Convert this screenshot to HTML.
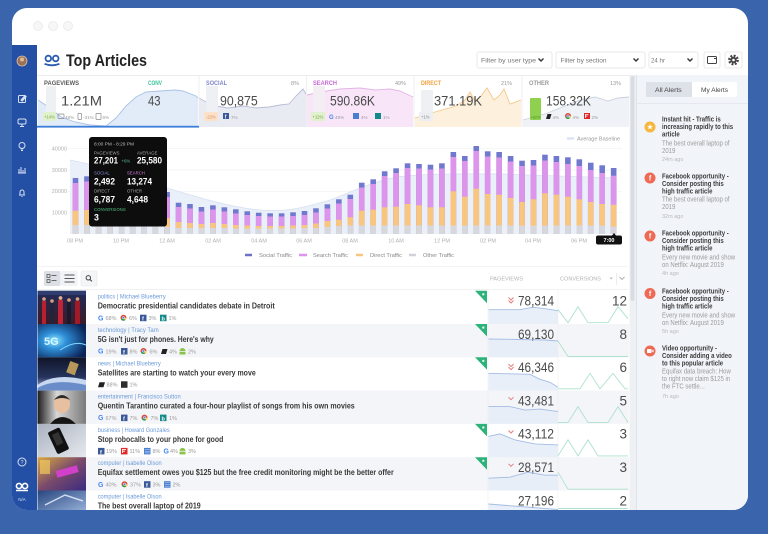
<!DOCTYPE html>
<html><head><meta charset="utf-8">
<style>
html,body{margin:0;padding:0;width:768px;height:534px;overflow:hidden;background:#3a64ac;}
svg{display:block;font-family:"Liberation Sans",sans-serif;}
</style></head><body>
<svg width="768" height="534" viewBox="0 0 768 534" xmlns="http://www.w3.org/2000/svg">
<defs>
<clipPath id="win"><rect x="12" y="8" width="736" height="502" rx="15"/></clipPath>
<linearGradient id="t0" x1="0" y1="0" x2="0" y2="1"><stop offset="0" stop-color="#1f2c5a"/><stop offset="1" stop-color="#3c1a28"/></linearGradient>
<radialGradient id="t1" cx="0.35" cy="0.5" r="0.7"><stop offset="0" stop-color="#8fe6ff"/><stop offset="0.35" stop-color="#2f8fd8"/><stop offset="1" stop-color="#0b2458"/></radialGradient>
<linearGradient id="t2" x1="0" y1="0" x2="0" y2="1"><stop offset="0" stop-color="#0f1428"/><stop offset="0.6" stop-color="#26345e"/><stop offset="1" stop-color="#a9c1e8"/></linearGradient>
<linearGradient id="t3" x1="0" y1="0" x2="1" y2="0"><stop offset="0" stop-color="#1c1c1c"/><stop offset="0.4" stop-color="#d8d8d8"/><stop offset="1" stop-color="#7a7a7a"/></linearGradient>
<linearGradient id="t4" x1="0" y1="0" x2="1" y2="1"><stop offset="0" stop-color="#aab2c0"/><stop offset="1" stop-color="#e6e9ee"/></linearGradient>
<linearGradient id="t5" x1="0" y1="0" x2="1" y2="1"><stop offset="0" stop-color="#d9a843"/><stop offset="0.5" stop-color="#7a4a6a"/><stop offset="1" stop-color="#3a2a80"/></linearGradient>
<linearGradient id="t6" x1="0" y1="0" x2="1" y2="1"><stop offset="0" stop-color="#27467f"/><stop offset="1" stop-color="#9bb4dc"/></linearGradient>
</defs>

<rect width="768" height="534" fill="#3a64ac"/>

<g clip-path="url(#win)">
<rect x="12" y="8" width="736" height="502" fill="#ffffff"/>
<!-- traffic lights -->
<circle cx="38" cy="26" r="4.5" fill="#f7f7f7" stroke="#ececec"/>
<circle cx="53" cy="26" r="4.5" fill="#f7f7f7" stroke="#ececec"/>
<circle cx="68" cy="26" r="4.5" fill="#f7f7f7" stroke="#ececec"/>

<!-- sidebar -->
<rect x="12" y="45" width="25" height="470" fill="#234fa4"/>
<circle cx="22" cy="61" r="5" fill="#9a7058" stroke="#d8c0a8" stroke-width="0.8"/>
<circle cx="22" cy="59.5" r="2" fill="#e0b898"/>
<g fill="none" stroke="#d5e0f5" stroke-width="1">
<rect x="18.5" y="95.5" width="7" height="7" rx="1"/>
<path d="M21,100 l4,-4.5 l1.2,1.2 l-4,4.5z" fill="#d5e0f5"/>
<rect x="18" y="119" width="8" height="5" rx="1.5"/>
<path d="M22,124 v2 M20,126.5 h4"/>
<circle cx="22" cy="145.5" r="3"/>
<path d="M20.8,149 h2.4 M21,150.5 h2"/>
<path d="M18,173 h8 M19,173 v-4 M21,173 v-6 M23,173 v-3 M25,173 v-5"/>
<path d="M19,195 h6 M20,195 v-3 a2,2 0 0 1 4,0 v3 M21.5,196.5 h1"/>
<circle cx="22" cy="462" r="4"/>
</g>
<text x="22" y="464.2" font-size="5.5" fill="#d5e0f5" text-anchor="middle">?</text>
<circle cx="19" cy="486" r="2.6" fill="none" stroke="#fff" stroke-width="1.6"/>
<circle cx="25" cy="486" r="2.6" fill="none" stroke="#fff" stroke-width="1.6"/>
<path d="M16,490.5 h12" stroke="#fff" stroke-width="1.5"/>
<text x="22" y="501" font-size="4.5" fill="#d5e0f5" text-anchor="middle">N/A</text>

<!-- header -->
<circle cx="48.3" cy="58.5" r="2.8" fill="none" stroke="#2a5db0" stroke-width="1.8"/>
<circle cx="55.7" cy="58.5" r="2.8" fill="none" stroke="#2a5db0" stroke-width="1.8"/>
<path d="M44.5,63.8 q7.5,3 15,0" fill="none" stroke="#2a5db0" stroke-width="1.8"/>
<text x="66" y="66" font-size="16.5" font-weight="bold" fill="#222" textLength="81" lengthAdjust="spacingAndGlyphs">Top Articles</text>

<!-- filters -->
<rect x="477" y="52" width="75" height="16" rx="2" fill="#fff" stroke="#e3e3e3" stroke-width="0.8"/>
<text x="481" y="62.3" font-size="6.3" fill="#777" textLength="55" lengthAdjust="spacingAndGlyphs">Filter by user type</text>
<path d="M538.5,58.5 l2.5,2.5 l2.5,-2.5" fill="none" stroke="#333" stroke-width="1.4"/>
<rect x="556" y="52" width="89" height="16" rx="2" fill="#fff" stroke="#e3e3e3" stroke-width="0.8"/>
<text x="560.5" y="62.3" font-size="6.3" fill="#777" textLength="46" lengthAdjust="spacingAndGlyphs">Filter by section</text>
<path d="M633.5,58.5 l2.5,2.5 l2.5,-2.5" fill="none" stroke="#333" stroke-width="1.4"/>
<rect x="649" y="52" width="49" height="16" rx="2" fill="#fff" stroke="#e3e3e3" stroke-width="0.8"/>
<text x="651" y="62.3" font-size="6.3" fill="#777" textLength="14" lengthAdjust="spacingAndGlyphs">24 hr</text>
<path d="M687.5,58.5 l2.5,2.5 l2.5,-2.5" fill="none" stroke="#333" stroke-width="1.4"/>
<rect x="704" y="52" width="16" height="16" rx="2" fill="#fff" stroke="#e3e3e3" stroke-width="0.8"/>
<rect x="707.5" y="56.5" width="9" height="7" rx="1" fill="none" stroke="#444" stroke-width="1"/>
<path d="M714,58.5 h3" stroke="#444" stroke-width="1"/>
<rect x="725" y="52" width="17" height="16" rx="2" fill="#fff" stroke="#e3e3e3" stroke-width="0.8"/>
<circle cx="733.5" cy="60" r="4.2" fill="none" stroke="#444" stroke-width="2.4" stroke-dasharray="1.9 1.4"/>
<circle cx="733.5" cy="60" r="3.2" fill="#444"/>
<circle cx="733.5" cy="60" r="1.3" fill="#fff"/>

<!-- alerts panel -->
<rect x="636" y="75" width="115" height="440" fill="#f1f4f9"/>
<line x1="636.5" y1="75" x2="636.5" y2="510" stroke="#dfe3ea" stroke-width="1"/>
<line x1="636" y1="103.5" x2="748" y2="103.5" stroke="#e1e5ec" stroke-width="0.8"/>
<rect x="646" y="82" width="46" height="15" rx="1.5" fill="#dde1e8"/>
<rect x="692" y="82" width="45" height="15" rx="1.5" fill="#ffffff"/>
<text x="655" y="91.8" font-size="6.2" fill="#444" textLength="26.7" lengthAdjust="spacingAndGlyphs">All Alerts</text>
<text x="701" y="91.8" font-size="6.2" fill="#444" textLength="27" lengthAdjust="spacingAndGlyphs">My Alerts</text>

<!-- scrollbar -->
<rect x="629.5" y="75" width="6.5" height="440" fill="#eef0f3"/>
<rect x="630.5" y="76" width="4" height="225" rx="2" fill="#d9dce2"/>

<!-- metrics row -->
<line x1="37" y1="75.5" x2="630" y2="75.5" stroke="#e6e6e6" stroke-width="0.8"/>
<path d="M38,100 L50,108 L61,117 L75,122 L90,125 L106,126 L116,118 L126,106 L136,97 L146,92 L160,91 L175,90 L183,91 L196,96 L198,98 L198,127 L38,127Z" fill="#e2ebf8"/>
<path d="M38,100 L50,108 L61,117 L75,122 L90,125 L106,126 L116,118 L126,106 L136,97 L146,92 L160,91 L175,90 L183,91 L196,96 L198,98" fill="none" stroke="#a9c2e6" stroke-width="0.9"/>
<path d="M199,98 L210,104 L216,106 L228,108 L243,106 L256,108 L269,107 L280,105 L289,104 L296,96 L303,89 L306,94 L306,127 L199,127Z" fill="#e9ebf2"/>
<path d="M199,98 L210,104 L216,106 L228,108 L243,106 L256,108 L269,107 L280,105 L289,104 L296,96 L303,89 L306,94" fill="none" stroke="#b7bdd8" stroke-width="0.9"/>
<path d="M307,95 L320,92 L340,89 L360,88 L375,90 L390,89 L400,91 L413,97 L413,127 L307,127Z" fill="#f8e6f8"/>
<path d="M307,95 L320,92 L340,89 L360,88 L375,90 L390,89 L400,91 L413,97" fill="none" stroke="#e3b3e6" stroke-width="0.9"/>
<path d="M415,118 L428,114 L442,110 L456,106 L465,100 L470,92 L475,101 L481,96 L487,88 L494,100 L500,95 L504,89 L510,104 L521,100 L521,127 L415,127Z" fill="#fdf0dc"/>
<path d="M415,118 L428,114 L442,110 L456,106 L465,100 L470,92 L475,101 L481,96 L487,88 L494,100 L500,95 L504,89 L510,104 L521,100" fill="none" stroke="#f3c98a" stroke-width="0.9"/>
<path d="M523,120 L545,114 L565,106 L580,100 L595,97 L608,101 L618,98 L629,97 L629,127 L523,127Z" fill="#eff2f7"/>
<path d="M523,120 L545,114 L565,106 L580,100 L595,97 L608,101 L618,98 L629,97" fill="none" stroke="#c9d1de" stroke-width="0.9"/>
<g stroke="#ebebeb" stroke-width="0.8"><line x1="199" y1="76" x2="199" y2="127"/><line x1="306.5" y1="76" x2="306.5" y2="127"/><line x1="414" y1="76" x2="414" y2="127"/><line x1="522" y1="76" x2="522" y2="127"/></g>
<rect x="37" y="125.8" width="162" height="1.8" fill="#3d7ed8"/>

<!-- metric mini bars -->
<rect x="46" y="86" width="10" height="26" fill="#eef0f4"/>
<rect x="43" y="112" width="13" height="9" fill="#e1f0cd"/>
<text x="44" y="118.6" font-size="4.2" fill="#72aa3e">+14%</text>
<rect x="206" y="86" width="12" height="26" fill="#eef0f4"/>
<rect x="204" y="112" width="14" height="9" fill="#fbe1cc"/>
<text x="206" y="118.6" font-size="4.2" fill="#df8a50">-22%</text>
<rect x="313" y="86" width="12" height="26" fill="#f3edf4"/>
<rect x="311" y="112" width="14" height="9" fill="#e1f0cd"/>
<text x="312.5" y="118.6" font-size="4.2" fill="#72aa3e">+12%</text>
<rect x="421" y="90" width="12" height="22" fill="#eef0f4"/>
<rect x="419" y="112" width="14" height="9" fill="#eceef1"/>
<text x="421" y="118.6" font-size="4.2" fill="#888">+1%</text>
<rect x="530" y="98" width="11" height="22" rx="1" fill="#8fd14f"/>
<text x="530.5" y="118.6" font-size="3.8" fill="#4a8a20">+62%</text>

<!-- metric labels -->
<text x="44" y="85" font-size="6" font-weight="bold" fill="#5a5a5a" textLength="35" lengthAdjust="spacingAndGlyphs">PAGEVIEWS</text>
<text x="148" y="85" font-size="6" font-weight="bold" fill="#3cc39a" textLength="14" lengthAdjust="spacingAndGlyphs">CONV</text>
<text x="206" y="85" font-size="6" font-weight="bold" fill="#7c86c9" textLength="21" lengthAdjust="spacingAndGlyphs">SOCIAL</text>
<text x="299" y="85" font-size="5.5" fill="#999" text-anchor="end">8%</text>
<text x="313" y="85" font-size="6" font-weight="bold" fill="#c869d6" textLength="24" lengthAdjust="spacingAndGlyphs">SEARCH</text>
<text x="406" y="85" font-size="5.5" fill="#999" text-anchor="end">49%</text>
<text x="421" y="85" font-size="6" font-weight="bold" fill="#f2a03d" textLength="20" lengthAdjust="spacingAndGlyphs">DIRECT</text>
<text x="512" y="85" font-size="5.5" fill="#999" text-anchor="end">21%</text>
<text x="529" y="85" font-size="6" font-weight="bold" fill="#9a9a9a" textLength="20" lengthAdjust="spacingAndGlyphs">OTHER</text>
<text x="621" y="85" font-size="5.5" fill="#999" text-anchor="end">13%</text>

<!-- metric values -->
<g font-size="14" fill="#4a4a4a">
<text x="61" y="105.5" textLength="41" lengthAdjust="spacingAndGlyphs">1.21M</text>
<text x="148" y="105.5" textLength="12.5" lengthAdjust="spacingAndGlyphs">43</text>
<text x="220" y="105.5" textLength="37.7" lengthAdjust="spacingAndGlyphs">90,875</text>
<text x="330" y="105.5" textLength="45" lengthAdjust="spacingAndGlyphs">590.86K</text>
<text x="434" y="105.5" textLength="48" lengthAdjust="spacingAndGlyphs">371.19K</text>
<text x="546" y="105.5" textLength="45" lengthAdjust="spacingAndGlyphs">158.32K</text>
</g>
<!-- metric small stats -->
<g font-size="4.6" fill="#9a9a9a">
<rect x="58" y="114" width="6" height="4.5" rx="0.8" fill="none" stroke="#888" stroke-width="0.7"/>
<text x="65" y="118.8">48%</text>
<rect x="78" y="113.5" width="3.5" height="6" rx="0.6" fill="none" stroke="#888" stroke-width="0.7"/>
<text x="83" y="118.8">-31%</text>
<rect x="96" y="113.5" width="5" height="6" rx="0.6" fill="none" stroke="#888" stroke-width="0.7"/>
<text x="102.5" y="118.8">6%</text>
<rect x="223" y="113" width="6" height="6" fill="#3b5998"/><text x="224.8" y="118.4" font-size="5" font-weight="bold" fill="#fff">f</text>
<text x="231" y="118.8">7%</text>
<text x="329" y="119" font-size="6" font-weight="bold" fill="#4285f4">G</text>
<text x="335" y="118.8">49%</text>
<rect x="353" y="113" width="6" height="6" fill="#4a7fd0"/>
<text x="361" y="118.8">4%</text>
<rect x="375" y="113" width="6" height="6" fill="#138a8a"/>
<text x="383" y="118.8">1%</text>
<path d="M546,119 l1.5,-5 h4 l-1.5,5z" fill="#222"/>
<text x="552.5" y="118.8">4%</text>
<circle cx="568" cy="116" r="3" fill="#dd4b39"/><path d="M568,116 L565.4,117.5 A3,3 0 0 0 569.5,118.6Z" fill="#1da462"/><path d="M568,116 L569.5,118.6 A3,3 0 0 0 571,116Z" fill="#ffcd46"/><circle cx="568" cy="116" r="1.2" fill="#4285f4" stroke="#fff" stroke-width="0.5"/>
<text x="572.5" y="118.8">4%</text>
<rect x="584" y="113" width="6" height="6" fill="#e12828"/><path d="M585.5,118 v-3.5 h3 M585.5,116 h2" stroke="#fff" stroke-width="0.8" fill="none"/>
<text x="591.5" y="118.8">2%</text>
</g>

<!-- chart -->
<g stroke="#eff1f4" stroke-width="0.7">
<line x1="68" y1="148.7" x2="622" y2="148.7"/><line x1="68" y1="170" x2="622" y2="170"/><line x1="68" y1="191.3" x2="622" y2="191.3"/><line x1="68" y1="212.7" x2="622" y2="212.7"/>
</g>
<g font-size="5.5" fill="#b0b0b0" text-anchor="end">
<text x="67" y="150.6">40000</text><text x="67" y="171.9">30000</text><text x="67" y="193.2">20000</text><text x="67" y="214.6">10000</text>
</g>
<path d="M70,160 C110,168 140,180 167,188 C200,198 230,207 259,210 C285,212 300,209 330,200 C350,193 370,182 397,177 C430,173 470,174 500,174 C540,175 580,177 617,178 L617,234 L70,234Z" fill="#eaf0f9"/>
<path d="M70,160 C110,168 140,180 167,188 C200,198 230,207 259,210 C285,212 300,209 330,200 C350,193 370,182 397,177 C430,173 470,174 500,174 C540,175 580,177 617,178" fill="none" stroke="#d5e0f1" stroke-width="0.8"/>

<g fill="#7179cf">
<rect x="72.7" y="178" width="5.6" height="56"/><rect x="84.15" y="176.3" width="5.6" height="57.7"/><rect x="95.6" y="177" width="5.6" height="57"/><rect x="107.05" y="179" width="5.6" height="55"/><rect x="118.5" y="181" width="5.6" height="53"/><rect x="129.95" y="183" width="5.6" height="51"/><rect x="141.4" y="186" width="5.6" height="48"/><rect x="152.85" y="189" width="5.6" height="45"/><rect x="164.3" y="192" width="5.6" height="42"/><rect x="175.75" y="202.7" width="5.6" height="31.3"/><rect x="187.2" y="204" width="5.6" height="30"/><rect x="198.65" y="207" width="5.6" height="27"/><rect x="210.1" y="205.3" width="5.6" height="28.7"/><rect x="221.55" y="207.3" width="5.6" height="26.7"/><rect x="233" y="209.3" width="5.6" height="24.7"/><rect x="244.45" y="211.3" width="5.6" height="22.7"/><rect x="255.9" y="212.7" width="5.6" height="21.3"/><rect x="267.35" y="213.3" width="5.6" height="20.7"/><rect x="278.8" y="213.3" width="5.6" height="20.7"/><rect x="290.25" y="212.3" width="5.6" height="21.7"/><rect x="301.7" y="211" width="5.6" height="23"/><rect x="313.15" y="208.3" width="5.6" height="25.7"/><rect x="324.6" y="204.3" width="5.6" height="29.7"/><rect x="336.05" y="199.3" width="5.6" height="34.7"/><rect x="347.5" y="194.7" width="5.6" height="39.3"/><rect x="358.95" y="182.7" width="5.6" height="51.3"/><rect x="370.4" y="179.3" width="5.6" height="54.7"/><rect x="381.85" y="171.3" width="5.6" height="62.7"/><rect x="393.3" y="168.3" width="5.6" height="65.7"/><rect x="404.75" y="163.3" width="5.6" height="70.7"/><rect x="416.2" y="164" width="5.6" height="70"/><rect x="427.65" y="164.7" width="5.6" height="69.3"/><rect x="439.1" y="163.3" width="5.6" height="70.7"/><rect x="450.55" y="152" width="5.6" height="82"/><rect x="462" y="156" width="5.6" height="78"/><rect x="473.45" y="146" width="5.6" height="88"/><rect x="484.9" y="151.3" width="5.6" height="82.7"/><rect x="496.35" y="152" width="5.6" height="82"/><rect x="507.8" y="156" width="5.6" height="78"/><rect x="519.25" y="160.7" width="5.6" height="73.3"/><rect x="530.7" y="160" width="5.6" height="74"/><rect x="542.15" y="154.7" width="5.6" height="79.3"/><rect x="553.6" y="156" width="5.6" height="78"/><rect x="565.05" y="157.3" width="5.6" height="76.7"/><rect x="576.5" y="159.3" width="5.6" height="74.7"/><rect x="587.95" y="162.7" width="5.6" height="71.3"/><rect x="599.4" y="165.3" width="5.6" height="68.7"/><rect x="610.85" y="168" width="5.6" height="66"/>
</g>
<g fill="#dc95ea">
<rect x="72.7" y="183" width="5.6" height="51"/><rect x="84.15" y="181.5" width="5.6" height="52.5"/><rect x="95.6" y="182" width="5.6" height="52"/><rect x="107.05" y="184" width="5.6" height="50"/><rect x="118.5" y="186" width="5.6" height="48"/><rect x="129.95" y="188" width="5.6" height="46"/><rect x="141.4" y="191" width="5.6" height="43"/><rect x="152.85" y="194" width="5.6" height="40"/><rect x="164.3" y="197" width="5.6" height="37"/><rect x="175.75" y="207" width="5.6" height="27"/><rect x="187.2" y="208.5" width="5.6" height="25.5"/><rect x="198.65" y="211.5" width="5.6" height="22.5"/><rect x="210.1" y="209.5" width="5.6" height="24.5"/><rect x="221.55" y="211.5" width="5.6" height="22.5"/><rect x="233" y="213.5" width="5.6" height="20.5"/><rect x="244.45" y="215" width="5.6" height="19"/><rect x="255.9" y="216" width="5.6" height="18"/><rect x="267.35" y="216.5" width="5.6" height="17.5"/><rect x="278.8" y="216.5" width="5.6" height="17.5"/><rect x="290.25" y="216" width="5.6" height="18"/><rect x="301.7" y="215" width="5.6" height="19"/><rect x="313.15" y="212.5" width="5.6" height="21.5"/><rect x="324.6" y="208.5" width="5.6" height="25.5"/><rect x="336.05" y="203.5" width="5.6" height="30.5"/><rect x="347.5" y="199" width="5.6" height="35"/><rect x="358.95" y="187.5" width="5.6" height="46.5"/><rect x="370.4" y="184" width="5.6" height="50"/><rect x="381.85" y="176" width="5.6" height="58"/><rect x="393.3" y="173" width="5.6" height="61"/><rect x="404.75" y="168" width="5.6" height="66"/><rect x="416.2" y="168.5" width="5.6" height="65.5"/><rect x="427.65" y="169.5" width="5.6" height="64.5"/><rect x="439.1" y="168.5" width="5.6" height="65.5"/><rect x="450.55" y="157" width="5.6" height="77"/><rect x="462" y="161" width="5.6" height="73"/><rect x="473.45" y="151" width="5.6" height="83"/><rect x="484.9" y="156.5" width="5.6" height="77.5"/><rect x="496.35" y="157.5" width="5.6" height="76.5"/><rect x="507.8" y="161.5" width="5.6" height="72.5"/><rect x="519.25" y="166" width="5.6" height="68"/><rect x="530.7" y="165.5" width="5.6" height="68.5"/><rect x="542.15" y="160.5" width="5.6" height="73.5"/><rect x="553.6" y="162" width="5.6" height="72"/><rect x="565.05" y="164" width="5.6" height="70"/><rect x="576.5" y="166" width="5.6" height="68"/><rect x="587.95" y="170" width="5.6" height="64"/><rect x="599.4" y="173" width="5.6" height="61"/><rect x="610.85" y="175.7" width="5.6" height="58.3"/>
</g>
<g fill="#f8c67f">
<rect x="72.7" y="210.7" width="5.6" height="23.3"/><rect x="84.15" y="210" width="5.6" height="24"/><rect x="95.6" y="211" width="5.6" height="23"/><rect x="107.05" y="212" width="5.6" height="22"/><rect x="118.5" y="213" width="5.6" height="21"/><rect x="129.95" y="214" width="5.6" height="20"/><rect x="141.4" y="215" width="5.6" height="19"/><rect x="152.85" y="216" width="5.6" height="18"/><rect x="164.3" y="218" width="5.6" height="16"/><rect x="175.75" y="222" width="5.6" height="12"/><rect x="187.2" y="223" width="5.6" height="11"/><rect x="198.65" y="224" width="5.6" height="10"/><rect x="210.1" y="223" width="5.6" height="11"/><rect x="221.55" y="224" width="5.6" height="10"/><rect x="233" y="225" width="5.6" height="9"/><rect x="244.45" y="225.5" width="5.6" height="8.5"/><rect x="255.9" y="226" width="5.6" height="8"/><rect x="267.35" y="226" width="5.6" height="8"/><rect x="278.8" y="226" width="5.6" height="8"/><rect x="290.25" y="225.5" width="5.6" height="8.5"/><rect x="301.7" y="225" width="5.6" height="9"/><rect x="313.15" y="223.5" width="5.6" height="10.5"/><rect x="324.6" y="221" width="5.6" height="13"/><rect x="336.05" y="219.7" width="5.6" height="14.3"/><rect x="347.5" y="217.3" width="5.6" height="16.7"/><rect x="358.95" y="210.7" width="5.6" height="23.3"/><rect x="370.4" y="209.7" width="5.6" height="24.3"/><rect x="381.85" y="207.3" width="5.6" height="26.7"/><rect x="393.3" y="206.7" width="5.6" height="27.3"/><rect x="404.75" y="204" width="5.6" height="30"/><rect x="416.2" y="205.3" width="5.6" height="28.7"/><rect x="427.65" y="207.3" width="5.6" height="26.7"/><rect x="439.1" y="207.3" width="5.6" height="26.7"/><rect x="450.55" y="191.3" width="5.6" height="42.7"/><rect x="462" y="196.7" width="5.6" height="37.3"/><rect x="473.45" y="188.7" width="5.6" height="45.3"/><rect x="484.9" y="194" width="5.6" height="40"/><rect x="496.35" y="194.7" width="5.6" height="39.3"/><rect x="507.8" y="198" width="5.6" height="36"/><rect x="519.25" y="202" width="5.6" height="32"/><rect x="530.7" y="199.3" width="5.6" height="34.7"/><rect x="542.15" y="193.3" width="5.6" height="40.7"/><rect x="553.6" y="194.7" width="5.6" height="39.3"/><rect x="565.05" y="196.7" width="5.6" height="37.3"/><rect x="576.5" y="199.3" width="5.6" height="34.7"/><rect x="587.95" y="202" width="5.6" height="32"/><rect x="599.4" y="204" width="5.6" height="30"/><rect x="610.85" y="204.7" width="5.6" height="29.3"/>
</g>
<g fill="#d6d8de">
<rect x="72.7" y="225" width="5.6" height="9"/><rect x="84.15" y="225" width="5.6" height="9"/><rect x="95.6" y="225" width="5.6" height="9"/><rect x="107.05" y="225" width="5.6" height="9"/><rect x="118.5" y="226" width="5.6" height="8"/><rect x="129.95" y="226" width="5.6" height="8"/><rect x="141.4" y="226" width="5.6" height="8"/><rect x="152.85" y="226" width="5.6" height="8"/><rect x="164.3" y="227" width="5.6" height="7"/><rect x="175.75" y="228" width="5.6" height="6"/><rect x="187.2" y="228" width="5.6" height="6"/><rect x="198.65" y="228" width="5.6" height="6"/><rect x="210.1" y="228" width="5.6" height="6"/><rect x="221.55" y="228" width="5.6" height="6"/><rect x="233" y="228.5" width="5.6" height="5.5"/><rect x="244.45" y="228.5" width="5.6" height="5.5"/><rect x="255.9" y="228.5" width="5.6" height="5.5"/><rect x="267.35" y="228.5" width="5.6" height="5.5"/><rect x="278.8" y="228.5" width="5.6" height="5.5"/><rect x="290.25" y="228.5" width="5.6" height="5.5"/><rect x="301.7" y="228" width="5.6" height="6"/><rect x="313.15" y="228" width="5.6" height="6"/><rect x="324.6" y="227" width="5.6" height="7"/><rect x="336.05" y="226" width="5.6" height="8"/><rect x="347.5" y="225.5" width="5.6" height="8.5"/><rect x="358.95" y="225.5" width="5.6" height="8.5"/><rect x="370.4" y="225.5" width="5.6" height="8.5"/><rect x="381.85" y="225.5" width="5.6" height="8.5"/><rect x="393.3" y="225.5" width="5.6" height="8.5"/><rect x="404.75" y="225.5" width="5.6" height="8.5"/><rect x="416.2" y="225.5" width="5.6" height="8.5"/><rect x="427.65" y="225.5" width="5.6" height="8.5"/><rect x="439.1" y="225.5" width="5.6" height="8.5"/><rect x="450.55" y="225.5" width="5.6" height="8.5"/><rect x="462" y="225.5" width="5.6" height="8.5"/><rect x="473.45" y="225.5" width="5.6" height="8.5"/><rect x="484.9" y="225.5" width="5.6" height="8.5"/><rect x="496.35" y="225.5" width="5.6" height="8.5"/><rect x="507.8" y="225.5" width="5.6" height="8.5"/><rect x="519.25" y="225.5" width="5.6" height="8.5"/><rect x="530.7" y="225.5" width="5.6" height="8.5"/><rect x="542.15" y="225.5" width="5.6" height="8.5"/><rect x="553.6" y="225.5" width="5.6" height="8.5"/><rect x="565.05" y="225.5" width="5.6" height="8.5"/><rect x="576.5" y="225.5" width="5.6" height="8.5"/><rect x="587.95" y="225.5" width="5.6" height="8.5"/><rect x="599.4" y="225.5" width="5.6" height="8.5"/><rect x="610.85" y="226.5" width="5.6" height="7.5"/>
</g>

<!-- x labels -->
<g font-size="5.5" fill="#b0b0b0" text-anchor="middle">
<text x="75" y="242.5">08 PM</text><text x="121" y="242.5">10 PM</text><text x="167" y="242.5">12 AM</text><text x="213" y="242.5">02 AM</text><text x="259" y="242.5">04 AM</text><text x="304" y="242.5">06 AM</text><text x="350" y="242.5">08 AM</text><text x="396" y="242.5">10 AM</text><text x="442" y="242.5">12 PM</text><text x="488" y="242.5">02 PM</text><text x="533" y="242.5">04 PM</text><text x="579" y="242.5">06 PM</text>
</g>
<path d="M612,235.5 l2,-2.5 l2,2.5z" fill="#111"/>
<rect x="596" y="235.5" width="26" height="9" rx="2" fill="#111"/>
<text x="609" y="242.2" font-size="5.5" font-weight="bold" fill="#fff" text-anchor="middle">7:00</text>

<!-- average baseline legend -->
<line x1="567" y1="138.5" x2="574" y2="138.5" stroke="#dbe4f3" stroke-width="2.5"/>
<text x="577" y="140.5" font-size="5.5" fill="#999" textLength="43" lengthAdjust="spacingAndGlyphs">Average Baseline</text>

<!-- legend -->
<g font-size="5.5" fill="#888">
<line x1="245" y1="255" x2="252" y2="255" stroke="#6b73c9" stroke-width="2.5"/>
<text x="259" y="257" textLength="33" lengthAdjust="spacingAndGlyphs">Social Traffic</text>
<line x1="299" y1="255" x2="307" y2="255" stroke="#dc95ea" stroke-width="2.5"/>
<text x="313" y="257" textLength="35" lengthAdjust="spacingAndGlyphs">Search Traffic</text>
<line x1="356" y1="255" x2="363" y2="255" stroke="#f8c67f" stroke-width="2.5"/>
<text x="370" y="257" textLength="32" lengthAdjust="spacingAndGlyphs">Direct Traffic</text>
<line x1="409" y1="255" x2="416" y2="255" stroke="#d0d2d8" stroke-width="2.5"/>
<text x="423" y="257" textLength="31" lengthAdjust="spacingAndGlyphs">Other Traffic</text>
</g>

<!-- tooltip -->
<rect x="89" y="137" width="78" height="89.5" rx="3" fill="#0d0d0d"/>
<text x="94" y="145.5" font-size="4.8" fill="#bdbdbd">8:00 PM - 8:29 PM</text>
<text x="94" y="154.3" font-size="4.3" fill="#a8a8a8">PAGEVIEWS</text>
<text x="137" y="154.3" font-size="4.3" fill="#a8a8a8">AVERAGE</text>
<text x="94" y="163.5" font-size="8.8" font-weight="bold" fill="#fff" textLength="24" lengthAdjust="spacingAndGlyphs">27,201</text>
<text x="121.5" y="162.5" font-size="4.3" fill="#5fc28f">+6%</text>
<text x="137" y="163.5" font-size="8.8" font-weight="bold" fill="#fff" textLength="25" lengthAdjust="spacingAndGlyphs">25,580</text>
<text x="94" y="174.5" font-size="4.3" fill="#8f94e0">SOCIAL</text>
<text x="127" y="174.5" font-size="4.3" fill="#d97ee0">SEARCH</text>
<text x="94" y="184.3" font-size="8.8" font-weight="bold" fill="#fff" textLength="21" lengthAdjust="spacingAndGlyphs">2,492</text>
<text x="127" y="184.3" font-size="8.8" font-weight="bold" fill="#fff" textLength="25" lengthAdjust="spacingAndGlyphs">13,274</text>
<text x="94" y="192.3" font-size="4.3" fill="#a8a8a8">DIRECT</text>
<text x="127" y="192.3" font-size="4.3" fill="#a8a8a8">OTHER</text>
<text x="94" y="202.3" font-size="8.8" font-weight="bold" fill="#fff" textLength="21" lengthAdjust="spacingAndGlyphs">6,787</text>
<text x="127" y="202.3" font-size="8.8" font-weight="bold" fill="#fff" textLength="21" lengthAdjust="spacingAndGlyphs">4,648</text>
<text x="94" y="210.8" font-size="4.3" fill="#4fbf7f">CONVERSIONS</text>
<text x="94" y="220.3" font-size="8.8" font-weight="bold" fill="#fff">3</text>

<!-- toolbar -->
<line x1="37" y1="266.5" x2="628" y2="266.5" stroke="#efefef" stroke-width="0.8"/>
<rect x="44" y="271" width="16.5" height="15" rx="1.5" fill="#dcdfe5"/>
<g stroke="#666" stroke-width="0.9" fill="none">
<rect x="47" y="274.5" width="3" height="3"/><rect x="47" y="279.5" width="3" height="3"/><path d="M51.5,275.5 h5 M51.5,280.5 h5"/>
</g>
<rect x="61" y="271" width="16.5" height="15" rx="1.5" fill="#f2f3f6"/>
<path d="M64.5,275 h10 M64.5,278.5 h10 M64.5,282 h10" stroke="#555" stroke-width="1"/>
<rect x="81" y="271" width="16" height="15" rx="1.5" fill="#f4f5f7" stroke="#e6e7ea" stroke-width="0.6"/>
<circle cx="88.3" cy="277.8" r="2.2" fill="none" stroke="#444" stroke-width="1"/>
<path d="M89.9,279.4 l2,2" stroke="#444" stroke-width="1.1"/>
<g font-size="5.5" fill="#b3b3b3">
<text x="490" y="280.5" textLength="33" lengthAdjust="spacingAndGlyphs">PAGEVIEWS</text>
<text x="560" y="280.5" textLength="41" lengthAdjust="spacingAndGlyphs">CONVERSIONS</text>
</g>
<path d="M609.5,277.5 l1.7,2 l1.7,-2z" fill="#bbb"/>
<line x1="616.5" y1="273" x2="616.5" y2="285" stroke="#e5e5e5" stroke-width="0.7"/>
<path d="M619.5,277 l2.5,2.5 l2.5,-2.5" fill="none" stroke="#aaa" stroke-width="0.9"/>
<line x1="37" y1="289.5" x2="628" y2="289.5" stroke="#ececec" stroke-width="0.8"/>

<!-- list rows backgrounds -->
<rect x="37" y="324" width="592" height="33.3" fill="#f4f5f8"/>
<rect x="37" y="390.6" width="592" height="33.3" fill="#f4f5f8"/>
<rect x="37" y="457.2" width="592" height="33.3" fill="#f4f5f8"/>
<g stroke="#ededf0" stroke-width="0.6">
<line x1="488" y1="290" x2="488" y2="510"/><line x1="558" y1="290" x2="558" y2="510"/>
</g>

<!-- thumbnails -->
<rect x="37.5" y="290.7" width="48.5" height="33.3" fill="url(#t0)"/>
<g>
<rect x="42" y="301" width="4" height="23" fill="#b8202e"/><circle cx="44" cy="299" r="1.8" fill="#d9a080"/>
<rect x="50" y="303" width="4" height="21" fill="#23233a"/><circle cx="52" cy="301" r="1.8" fill="#d9a080"/>
<rect x="58" y="300" width="5" height="24" fill="#c02535"/><circle cx="60.5" cy="298" r="1.9" fill="#e0b090"/>
<rect x="67" y="302" width="4" height="22" fill="#1a1a2a"/><circle cx="69" cy="300" r="1.8" fill="#d9a080"/>
<rect x="75" y="301" width="5" height="23" fill="#a01a28"/><circle cx="77.5" cy="299" r="1.8" fill="#d9a080"/>
<rect x="37.5" y="291" width="48.5" height="4" fill="#3b4a80" opacity="0.6"/>
</g>
<rect x="37.5" y="324" width="48.5" height="33.3" fill="url(#t1)"/>
<text x="44" y="345" font-size="11" font-weight="bold" fill="#d8f6ff">5G</text>
<path d="M60,350 Q75,340 86,345" stroke="#7fd8ff" stroke-width="1" fill="none"/>
<rect x="37.5" y="357.3" width="48.5" height="33.3" fill="url(#t2)"/>
<path d="M37.5,385 Q55,372 86,380 L86,390.6 L37.5,390.6Z" fill="#c8d8f0"/>
<path d="M37.5,388 Q55,378 86,385 L86,390.6 L37.5,390.6Z" fill="#6a8cc8"/>
<rect x="68" y="362" width="9" height="12" fill="#b89858" transform="rotate(20 72 368)"/>
<rect x="37.5" y="390.6" width="48.5" height="33.3" fill="url(#t3)"/>
<ellipse cx="62" cy="404" rx="8" ry="9" fill="#e6c0a0"/>
<path d="M54,400 q8,-10 16,0 q-8,-4 -16,0z" fill="#2a2a2a"/>
<path d="M50,424 q12,-14 26,0z" fill="#151515"/>
<rect x="37.5" y="423.9" width="48.5" height="33.3" fill="url(#t4)"/>
<rect x="52" y="429" width="13" height="24" rx="2" fill="#111" transform="rotate(-25 58 441)"/>
<rect x="55" y="433" width="7" height="12" fill="#333" transform="rotate(-25 58 441)"/>
<rect x="37.5" y="457.2" width="48.5" height="33.3" fill="url(#t5)"/>
<rect x="56" y="468" width="22" height="7" fill="#d040c8" transform="rotate(-15 67 471)"/>
<rect x="40" y="460" width="10" height="14" fill="#f0c860" opacity="0.7"/>
<rect x="37.5" y="490.5" width="48.5" height="22" fill="url(#t6)"/>
<path d="M45,505 l20,-10 l18,6" stroke="#d0dcf0" stroke-width="1.5" fill="none"/>

<!-- row text -->
<g font-size="6.4" fill="#6b9bd9">
<text x="97.7" y="298.7" textLength="68" lengthAdjust="spacingAndGlyphs">politics | Michael Blueberry</text>
<text x="97.7" y="332" textLength="61" lengthAdjust="spacingAndGlyphs">technology | Tracy Tam</text>
<text x="97.7" y="365.3" textLength="63" lengthAdjust="spacingAndGlyphs">news | Michael Blueberry</text>
<text x="97.7" y="398.6" textLength="83" lengthAdjust="spacingAndGlyphs">entertainment | Francisco Sutton</text>
<text x="97.7" y="431.9" textLength="72" lengthAdjust="spacingAndGlyphs">business | Howard Gonzales</text>
<text x="97.7" y="465.2" textLength="64" lengthAdjust="spacingAndGlyphs">computer | Isabelle Olson</text>
<text x="97.7" y="498.5" textLength="64" lengthAdjust="spacingAndGlyphs">computer | Isabelle Olson</text>
</g>
<g font-size="8.4" font-weight="bold" fill="#383838">
<text x="97.7" y="308.7" textLength="177" lengthAdjust="spacingAndGlyphs">Democratic presidential candidates debate in Detroit</text>
<text x="97.7" y="342" textLength="116" lengthAdjust="spacingAndGlyphs">5G isn't just for phones. Here's why</text>
<text x="97.7" y="375.3" textLength="158" lengthAdjust="spacingAndGlyphs">Satellites are starting to watch your every move</text>
<text x="97.7" y="408.6" textLength="257" lengthAdjust="spacingAndGlyphs">Quentin Tarantino curated a four-hour playlist of songs from his own movies</text>
<text x="97.7" y="441.9" textLength="125.6" lengthAdjust="spacingAndGlyphs">Stop robocalls to your phone for good</text>
<text x="97.7" y="475.2" textLength="296" lengthAdjust="spacingAndGlyphs">Equifax settlement owes you $125 but the free credit monitoring might be the better offer</text>
<text x="97.7" y="508.5" textLength="103" lengthAdjust="spacingAndGlyphs">The best overall laptop of 2019</text>
</g>

<!-- source icons rows -->
<g font-size="5.5" fill="#9a9a9a">
<!-- row0 -->
<text x="98" y="320.3" font-size="7" font-weight="bold" fill="#4285f4">G</text><text x="105.5" y="320">68%</text>
<circle cx="123.5" cy="317.7" r="3" fill="#dd4b39"/><path d="M123.5,317.7 L120.9,319.2 A3,3 0 0 0 125,320.3Z" fill="#1da462"/><path d="M123.5,317.7 L125,320.3 A3,3 0 0 0 126.5,317.7Z" fill="#ffcd46"/><circle cx="123.5" cy="317.7" r="1.2" fill="#4285f4" stroke="#fff" stroke-width="0.5"/>
<text x="129" y="320">6%</text>
<rect x="140" y="314.7" width="6.5" height="6.5" fill="#3b5998"/><text x="142" y="320.6" font-size="5.5" font-weight="bold" fill="#fff">f</text><text x="148.5" y="320">3%</text>
<rect x="160" y="314.7" width="6.5" height="6.5" fill="#138a8a"/><text x="161.5" y="320.5" font-size="5.5" font-weight="bold" fill="#fff">b</text><text x="168.5" y="320">1%</text>
<!-- row1 -->
<text x="98" y="353.6" font-size="7" font-weight="bold" fill="#4285f4">G</text><text x="105.5" y="353.3">19%</text>
<rect x="121" y="348" width="6.5" height="6.5" fill="#3b5998"/><text x="123" y="353.9" font-size="5.5" font-weight="bold" fill="#fff">f</text><text x="129.5" y="353.3">8%</text>
<circle cx="143.5" cy="351" r="3" fill="#dd4b39"/><path d="M143.5,351 L140.9,352.5 A3,3 0 0 0 145,353.6Z" fill="#1da462"/><path d="M143.5,351 L145,353.6 A3,3 0 0 0 146.5,351Z" fill="#ffcd46"/><circle cx="143.5" cy="351" r="1.2" fill="#4285f4" stroke="#fff" stroke-width="0.5"/>
<text x="149.5" y="353.3">6%</text>
<path d="M161,354 l1.5,-5 h5 l-1.5,5z" fill="#222"/><text x="169" y="353.3">4%</text>
<path d="M179.5,351 a3,3 0 0 1 6,0z M179.5,351.7 h6 v2.8 h-6z" fill="#8bc34a"/><text x="188" y="353.3">2%</text>
<!-- row2 -->
<path d="M98,387.3 l1.5,-5 h5.5 l-1.5,5z" fill="#222"/><text x="106.5" y="386.6">88%</text>
<rect x="121" y="381.3" width="6.5" height="6.5" fill="#2e2e2e"/><text x="129.5" y="386.6">1%</text>
<!-- row3 -->
<text x="98" y="420.2" font-size="7" font-weight="bold" fill="#4285f4">G</text><text x="105.5" y="419.9">67%</text>
<rect x="121" y="414.6" width="6.5" height="6.5" fill="#3b5998"/><text x="123" y="420.5" font-size="5.5" font-weight="bold" fill="#fff">f</text><text x="129.5" y="419.9">7%</text>
<circle cx="144.5" cy="417.6" r="3" fill="#dd4b39"/><path d="M144.5,417.6 L141.9,419.1 A3,3 0 0 0 146,420.2Z" fill="#1da462"/><path d="M144.5,417.6 L146,420.2 A3,3 0 0 0 147.5,417.6Z" fill="#ffcd46"/><circle cx="144.5" cy="417.6" r="1.2" fill="#4285f4" stroke="#fff" stroke-width="0.5"/>
<text x="150.5" y="419.9">7%</text>
<rect x="160" y="414.6" width="6.5" height="6.5" fill="#138a8a"/><text x="161.5" y="420.4" font-size="5.5" font-weight="bold" fill="#fff">b</text><text x="169" y="419.9">1%</text>
<!-- row4 -->
<rect x="98" y="447.9" width="6.5" height="6.5" fill="#3b5998"/><text x="100" y="453.8" font-size="5.5" font-weight="bold" fill="#fff">f</text><text x="106" y="453.2">19%</text>
<rect x="121" y="447.9" width="6.5" height="6.5" fill="#e12828"/><path d="M122.6,453 v-3.6 h3.4 M122.6,451.2 h2.4" stroke="#fff" stroke-width="0.9" fill="none"/><text x="129.5" y="453.2">11%</text>
<rect x="144" y="447.9" width="6.5" height="6.5" fill="#4a7fd0"/><path d="M144.8,449.5 h5 M144.8,451.2 h5 M144.8,452.9 h5" stroke="#cfe0fa" stroke-width="0.5"/><text x="152.5" y="453.2">8%</text>
<text x="163.5" y="453.5" font-size="7" font-weight="bold" fill="#4285f4">G</text><text x="170" y="453.2">4%</text>
<path d="M179.5,450.9 a3,3 0 0 1 6,0z M179.5,451.6 h6 v2.8 h-6z" fill="#8bc34a"/><text x="188" y="453.2">3%</text>
<!-- row5 -->
<text x="98" y="486.8" font-size="7" font-weight="bold" fill="#4285f4">G</text><text x="105.5" y="486.5">40%</text>
<circle cx="124.5" cy="484.2" r="3" fill="#dd4b39"/><path d="M124.5,484.2 L121.9,485.7 A3,3 0 0 0 126,486.8Z" fill="#1da462"/><path d="M124.5,484.2 L126,486.8 A3,3 0 0 0 127.5,484.2Z" fill="#ffcd46"/><circle cx="124.5" cy="484.2" r="1.2" fill="#4285f4" stroke="#fff" stroke-width="0.5"/>
<text x="130" y="486.5">37%</text>
<rect x="144" y="481.2" width="6.5" height="6.5" fill="#3b5998"/><text x="146" y="487.1" font-size="5.5" font-weight="bold" fill="#fff">f</text><text x="152.5" y="486.5">3%</text>
<rect x="164" y="481.2" width="6.5" height="6.5" fill="#4a7fd0"/><path d="M164.8,482.8 h5 M164.8,484.5 h5 M164.8,486.2 h5" stroke="#cfe0fa" stroke-width="0.5"/><text x="172.5" y="486.5">2%</text>
</g>

<!-- green corner flags -->
<g fill="#2db37a">
<path d="M475,290.7 h12 v12.5z"/><path d="M475,324 h12 v12.5z"/><path d="M475,357.3 h12 v12.5z"/><path d="M475,423.9 h12 v12.5z"/><path d="M475,457.2 h12 v12.5z"/>
</g>
<g fill="#d8f5e6">
<circle cx="483.3" cy="294.3" r="1.2"/><circle cx="483.3" cy="327.6" r="1.2"/><circle cx="483.3" cy="360.9" r="1.2"/><circle cx="483.3" cy="427.5" r="1.2"/><circle cx="483.3" cy="460.8" r="1.2"/>
</g>

<!-- pageviews sparklines -->
<g fill="#e7eef9" opacity="0.9">
<path d="M488.5,309.7 L520,309.7 L533,307.2 L545,308.7 L558,310.7 L558,324 L488.5,324Z"/>
<path d="M488.5,339 L520,339.5 L545,340 L558,341 L558,357.3 L488.5,357.3Z"/>
<path d="M488.5,373.3 L510,373.8 L530,374.3 L540,379.3 L550,382.3 L558,387.3 L558,390.6 L488.5,390.6Z"/>
<path d="M488.5,406.6 L510,406.6 L525,410.1 L540,409.1 L558,411.6 L558,423.9 L488.5,423.9Z"/>
<path d="M488.5,436.4 L500,433.9 L515,439.9 L535,443.9 L558,444.9 L558,457.2 L488.5,457.2Z"/>
<path d="M488.5,478.2 L510,477.2 L528,472.2 L545,475.2 L558,475.2 L558,490.5 L488.5,490.5Z"/>
<path d="M488.5,504 L520,506.5 L558,509.5 L558,512 L488.5,512Z"/>
</g>
<g fill="none" stroke="#a3bde4" stroke-width="0.9">
<path d="M488.5,309.7 L520,309.7 L533,307.2 L545,308.7 L558,310.7"/>
<path d="M488.5,339 L520,339.5 L545,340 L558,341"/>
<path d="M488.5,373.3 L510,373.8 L530,374.3 L540,379.3 L550,382.3 L558,387.3"/>
<path d="M488.5,406.6 L510,406.6 L525,410.1 L540,409.1 L558,411.6"/>
<path d="M488.5,436.4 L500,433.9 L515,439.9 L535,443.9 L558,444.9"/>
<path d="M488.5,478.2 L510,477.2 L528,472.2 L545,475.2 L558,475.2"/>
<path d="M488.5,504 L520,506.5 L558,509.5"/>
</g>
<!-- conversion sparklines -->
<g fill="none" stroke="#aee2cc" stroke-width="0.9">
<path d="M558,309.7 L568,322.7 L578,306.7 L588,322.7 L608,322.7 L618,306.7 L628,318.7"/>
<path d="M558,341 L568,356.5 L628,356.5"/>
<path d="M558,388.8 L580,388.8 L590,373.3 L600,388.8 L613,373.3 L625,388.8 L628,388.8"/>
<path d="M558,422.6 L568,422.6 L578,406.6 L588,422.6 L608,422.6 L618,406.6 L628,422.6"/>
<path d="M558,455.9 L568,439.9 L578,455.9 L588,439.9 L598,455.9 L628,455.9"/>
<path d="M558,472.2 L568,489.2 L628,489.2"/>
<path d="M558,508.5 L628,508.5"/>
</g>

<!-- red arrows -->
<g fill="none" stroke="#e87c7c" stroke-width="1">
<path d="M508.5,297.5 l2.5,2.5 l2.5,-2.5 M508.5,300.5 l2.5,2.5 l2.5,-2.5"/>
<path d="M508.5,364.1 l2.5,2.5 l2.5,-2.5 M508.5,367.1 l2.5,2.5 l2.5,-2.5"/>
<path d="M508.5,397.2 l2.5,2.5 l2.5,-2.5"/>
<path d="M508.5,430.5 l2.5,2.5 l2.5,-2.5"/>
<path d="M508.5,463.8 l2.5,2.5 l2.5,-2.5"/>
</g>

<!-- numbers -->
<g font-size="13.5" fill="#4a4a4a" text-anchor="end">
<text x="554" y="305.5" textLength="36" lengthAdjust="spacingAndGlyphs">78,314</text>
<text x="554" y="338.8" textLength="36" lengthAdjust="spacingAndGlyphs">69,130</text>
<text x="554" y="372.1" textLength="36" lengthAdjust="spacingAndGlyphs">46,346</text>
<text x="554" y="405.4" textLength="36" lengthAdjust="spacingAndGlyphs">43,481</text>
<text x="554" y="438.7" textLength="36" lengthAdjust="spacingAndGlyphs">43,112</text>
<text x="554" y="472" textLength="36" lengthAdjust="spacingAndGlyphs">28,571</text>
<text x="554" y="505.3" textLength="36" lengthAdjust="spacingAndGlyphs">27,196</text>
<text x="627" y="305.5">12</text>
<text x="627" y="338.8">8</text>
<text x="627" y="372.1">6</text>
<text x="627" y="405.4">5</text>
<text x="627" y="438.7">3</text>
<text x="627" y="472">3</text>
<text x="627" y="505.3">2</text>
</g>

<!-- alerts -->
<circle cx="650" cy="127" r="5.5" fill="#f6b73c"/>
<polygon points="650,124 650.76,125.95 652.85,126.07 651.24,127.4 651.76,129.43 650,128.3 648.24,129.43 648.76,127.4 647.15,126.07 649.24,125.95" fill="#fff"/>
<circle cx="650" cy="178" r="5.5" fill="#ee6a55"/><text x="650" y="180.6" font-size="7" font-weight="bold" fill="#fff" text-anchor="middle">f</text>
<circle cx="650" cy="236" r="5.5" fill="#ee6a55"/><text x="650" y="238.6" font-size="7" font-weight="bold" fill="#fff" text-anchor="middle">f</text>
<circle cx="650" cy="293.5" r="5.5" fill="#ee6a55"/><text x="650" y="296.1" font-size="7" font-weight="bold" fill="#fff" text-anchor="middle">f</text>
<circle cx="650" cy="351" r="5.5" fill="#ee6a55"/><rect x="647" y="349" width="4.5" height="4" rx="0.6" fill="#fff"/><path d="M651.5,351 l2,-1.5 v3z" fill="#fff"/>

<g font-size="7" font-weight="bold" fill="#3d3d3d">
<text transform="translate(662,121.5) scale(0.86,1)">Instant hit - Traffic is</text>
<text transform="translate(662,129) scale(0.86,1)">increasing rapidly to this</text>
<text transform="translate(662,136.5) scale(0.86,1)">article</text>
<text transform="translate(662,178.5) scale(0.86,1)">Facebook opportunity -</text>
<text transform="translate(662,186) scale(0.86,1)">Consider posting this</text>
<text transform="translate(662,193.5) scale(0.86,1)">high traffic article</text>
<text transform="translate(662,235.5) scale(0.86,1)">Facebook opportunity -</text>
<text transform="translate(662,243) scale(0.86,1)">Consider posting this</text>
<text transform="translate(662,250.5) scale(0.86,1)">high traffic article</text>
<text transform="translate(662,293.5) scale(0.86,1)">Facebook opportunity -</text>
<text transform="translate(662,301) scale(0.86,1)">Consider posting this</text>
<text transform="translate(662,308.5) scale(0.86,1)">high traffic article</text>
<text transform="translate(662,350.5) scale(0.86,1)">Video opportunity -</text>
<text transform="translate(662,358) scale(0.86,1)">Consider adding a video</text>
<text transform="translate(662,365.5) scale(0.86,1)">to this popular article</text>
</g>
<g font-size="7" fill="#9c9c9c">
<text transform="translate(662,145.5) scale(0.86,1)">The best overall laptop of</text>
<text transform="translate(662,153) scale(0.86,1)">2019</text>
<text transform="translate(662,201.5) scale(0.86,1)">The best overall laptop of</text>
<text transform="translate(662,209) scale(0.86,1)">2019</text>
<text transform="translate(662,259.5) scale(0.86,1)">Every new movie and show</text>
<text transform="translate(662,267) scale(0.86,1)">on Netflix: August 2019</text>
<text transform="translate(662,317.5) scale(0.86,1)">Every new movie and show</text>
<text transform="translate(662,325) scale(0.86,1)">on Netflix: August 2019</text>
<text transform="translate(662,373.5) scale(0.86,1)">Equifax data breach: How</text>
<text transform="translate(662,381) scale(0.86,1)">to right now claim $125 in</text>
<text transform="translate(662,388.5) scale(0.86,1)">the FTC settle...</text>
</g>
<g font-size="5.5" fill="#b8b8b8">
<text x="662" y="161">24m ago</text>
<text x="662" y="218">32m ago</text>
<text x="662" y="275">4h ago</text>
<text x="662" y="333">5h ago</text>
<text x="662" y="398">7h ago</text>
</g>
</g>
</svg>
</body></html>
